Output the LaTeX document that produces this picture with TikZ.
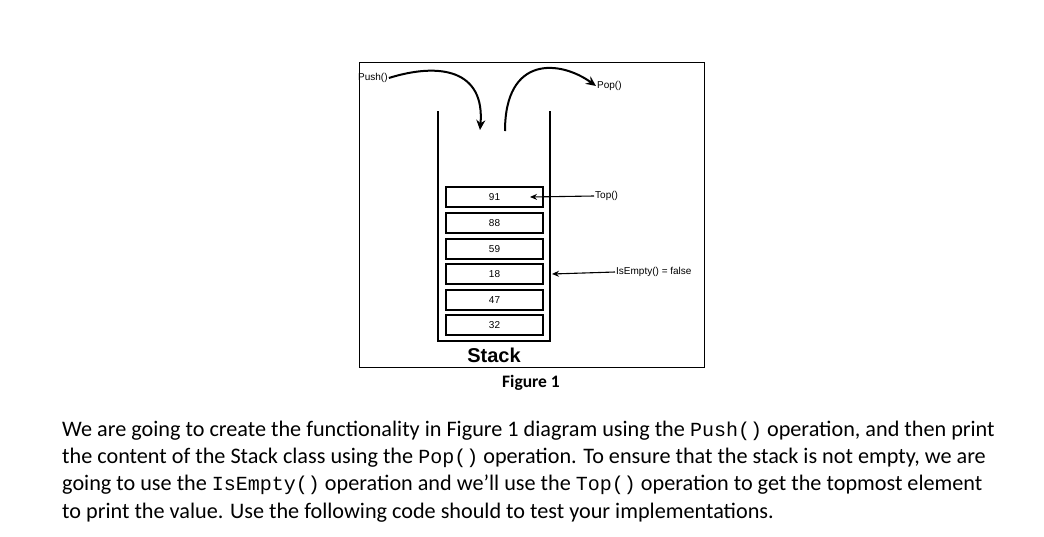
\documentclass[tikz,border=0pt]{standalone}
\usepackage{fontspec}
\setmainfont{Carlito}
\newfontfamily\diag{Liberation Sans}
\newfontfamily\codef{Liberation Mono}
\newcommand{\cd}[1]{{\codef\fontsize{20}{24}\selectfont #1}}
\usetikzlibrary{arrows.meta}
\begin{document}
\begin{tikzpicture}[x=1pt,y=-1pt,
  box/.style={draw,line width=1.3pt,minimum width=97pt,minimum height=20pt,inner sep=0pt,font=\diag\fontsize{10}{11}\selectfont},
  lbl/.style={font=\diag\fontsize{10}{11}\selectfont,inner sep=1pt},
  arr/.style={-{Stealth[length=7pt,width=6pt]},line width=1.1pt},
  big/.style={-{Stealth[length=10pt,width=9pt]},line width=2pt},
  txt/.style={anchor=base west,inner sep=0pt,font=\fontsize{22.2}{26}\selectfont}]
\useasboundingbox (0,0) rectangle (1044,536);
\node[draw,line width=1.2pt,minimum width=345pt,minimum height=305pt,anchor=north west,inner sep=0pt] (frame) at (359,62) {};
\coordinate (wl) at (438,111); \coordinate (wr) at (550,111);
\draw[line width=2pt] (wl) -- (438,341) -- (550,341) -- (wr);
\foreach \n/\v/\y in {a/91/197, b/88/223, c/59/249, d/18/274, e/47/300, f/32/325}
  \node[box] (\n) at (494.5,\y) {\v};
\node[lbl,anchor=west] (top) at (594,196) {Top()};
\node[lbl,anchor=west] (ise) at (615,272) {IsEmpty() = false};
\draw[arr] (top.west) -- (530,197);
\draw[arr] (ise.west) -- (d.east -| 552,0);
\node[lbl,anchor=west] (push) at (357,78) {Push()};
\node[lbl,anchor=west] (pop) at (596,86) {Pop()};
\coordinate (pe) at (480,130); \coordinate (ps) at (505,131);
\draw[big] (push.east) .. controls (440,62) and (485,70) .. (pe);
\draw[big] (ps) .. controls (505,55) and (560,60) .. (pop.west);
\node[font=\diag\bfseries\fontsize{20}{22}\selectfont,inner sep=0pt] (stk) at (494,355) {Stack};
\node[font=\bfseries\fontsize{17.5}{20}\selectfont,inner sep=0pt] (fig) at (531,383) {Figure 1};
\node[txt] (l1) at (62,436) {We are going to create the functionality in Figure 1 diagram using the \cd{Push()} operation, and then print};
\node[txt] (l2) at (62,463) {the content of the Stack class using the \cd{Pop()} operation. To ensure that the stack is not empty, we are};
\node[txt] (l3) at (62,490) {going to use the \cd{IsEmpty()} operation and we'll use the \cd{Top()} operation to get the topmost element};
\node[txt] (l4) at (62,518) {to print the value. Use the following code should to test your implementations.};
\end{tikzpicture}
\end{document}
